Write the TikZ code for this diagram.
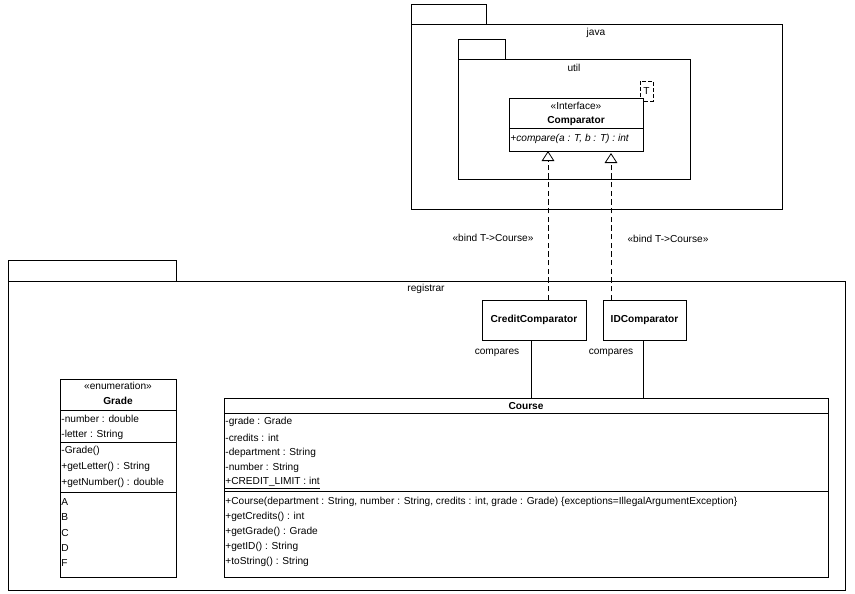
\documentclass[tikz,border=0pt]{standalone}
\usepackage{fontspec}
\setmainfont{Liberation Sans}
\usetikzlibrary{arrows.meta}
\begin{document}
\begin{tikzpicture}[x=0.75pt, y=-0.75pt, line width=0.6pt,
    txt/.style={inner sep=0pt, font=\fontsize{7.6}{9}\selectfont},
    lt/.style={txt, anchor=west},
    realize/.style={dashed, dash pattern=on 4pt off 2.5pt, -{Triangle[open, length=7.5pt, width=9.5pt]}}]
  \useasboundingbox (0,0) rectangle (855,593);
  % packages
  \draw (411,4) rectangle (486,24) (411,24) rectangle (782,209);
  \node[txt] (java) at (596,33) {java};
  \draw (458,39) rectangle (505,59) (458,59) rectangle (690,179);
  \node[txt] (util) at (574,68) {util};
  \draw (8,260) rectangle (176,281) (8,281) rectangle (845,590);
  \node[txt] (registrar) at (426,289) {registrar};
  % Comparator interface
  \draw[dashed, dash pattern=on 3pt off 1.5pt] (640,81) rectangle (653,101);
  \node[txt] (T) at (646.5,91) {T};
  \draw[fill=white] (509,98) rectangle (643,151) (509,128) -- (643,128);
  \node[txt] (stereo) at (576,106) {<<Interface>>};
  \node[txt, font=\fontsize{7.6}{9}\selectfont\bfseries] (Comparator) at (576,121) {Comparator};
  \node[lt] (compare) at (510,139) {\itshape +compare(a : T, b : T) : int};
  \coordinate (tipA) at (548,151);
  \coordinate (tipB) at (611,153);
  % comparators
  \draw (482,300) rectangle (586,340) (603,300) rectangle (686,340);
  \node[txt, font=\fontsize{7.6}{9}\selectfont\bfseries] (CreditComparator) at (534,320) {CreditComparator};
  \node[txt, font=\fontsize{7.6}{9}\selectfont\bfseries] (IDComparator) at (644.5,320) {IDComparator};
  \coordinate (ccTop) at (548,300);
  \coordinate (idTop) at (611,300);
  \coordinate (ccBot) at (531,340);
  \coordinate (idBot) at (643,340);
  \draw[realize] (ccTop) -- (tipA);
  \draw[realize] (idTop) -- (tipB);
  \node[txt] (bindA) at (493,238) {<<bind T->Course>>};
  \node[txt] (bindB) at (668,239) {<<bind T->Course>>};
  % Grade enumeration
  \draw (60,379) rectangle (176,577) (60,410) -- (176,410) (60,442) -- (176,442) (60,492) -- (176,492);
  \node[txt] (enum) at (118,386) {<<enumeration>>};
  \node[txt, font=\fontsize{7.6}{9}\selectfont\bfseries] (Grade) at (118,401) {Grade};
  \foreach \a [count=\i] in {-number : double,-letter : String} {
    \node[lt] (gattr\i) at (61,403+16*\i) {\a};
  }
  \foreach \a [count=\i] in {-Grade(),+getLetter() : String,+getNumber() : double} {
    \node[lt] (gop\i) at (61,435+16*\i) {\a};
  }
  \foreach \a [count=\i] in {A,B,C,D,F} {
    \node[lt] (glit\i) at (61,487+15.2*\i) {\a};
  }
  % Course class
  \draw (224,398) rectangle (828,577) (224,413) -- (828,413) (224,491) -- (828,491);
  \node[txt, font=\fontsize{7.6}{9}\selectfont\bfseries] (Course) at (526,406) {Course};
  \foreach \a [count=\i] in {-grade : Grade,-credits : int,-department : String,-number : String,\underline{+CREDIT\_LIMIT : int}} {
    \node[lt] (cattr\i) at (225,407+15.2*\i) {\a};
  }
  \foreach \a [count=\i] in {{+Course(department : String, number : String, credits : int, grade : Grade) \{exceptions=IllegalArgumentException\}},+getCredits() : int,+getGrade() : Grade,+getID() : String,+toString() : String} {
    \node[lt] (cop\i) at (225,487+15*\i) {\a};
  }
  \coordinate (cTopA) at (531,398);
  \coordinate (cTopB) at (643,398);
  \draw (ccBot) -- (cTopA);
  \draw (idBot) -- (cTopB);
  \node[txt] (comp1) at (497,353) {compares};
  \node[txt] (comp2) at (611,353) {compares};
\end{tikzpicture}
\end{document}
